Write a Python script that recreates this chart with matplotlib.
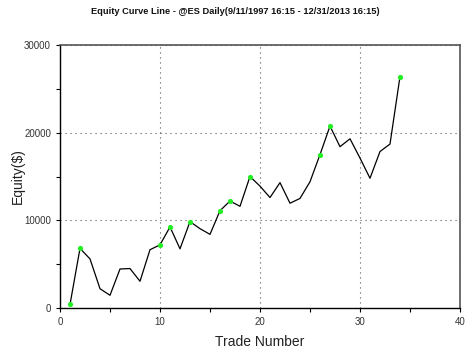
import numpy as np
import matplotlib.pyplot as plt
from matplotlib.ticker import MultipleLocator

plt.rcParams['font.family'] = ['Liberation Sans', 'DejaVu Sans']

# Equity after each trade
trades = list(range(1, 35))
equity = [400, 6800, 5600, 2200, 1450, 4450, 4500, 3050, 6650, 7200,
          9250, 6750, 9850, 9050, 8400, 11100, 12200, 11600, 15000, 13900,
          12600, 14300, 11950, 12500, 14400, 17500, 20750, 18400, 19300, 17100,
          14800, 17850, 18700, 26400]
# trades that made a new equity high
highs = [1, 2, 10, 11, 13, 16, 17, 19, 26, 27, 34]

title = "Equity Curve Line - @ES Daily(9/11/1997 16:15 - 12/31/2013 16:15)"

fig = plt.figure(figsize=(4.74, 3.51), dpi=100)
ax = fig.add_axes([60 / 474, 1 - 308 / 351, 400 / 474, 263 / 351])

ax.plot(trades, equity, color='black', lw=0.9, zorder=3)
hi_eq = [equity[t - 1] for t in highs]
ax.scatter(highs, hi_eq, s=14, color='#22ee22', zorder=4, linewidths=0)

ax.set_xlim(0, 40)
ax.set_ylim(0, 30000)
ax.xaxis.set_major_locator(MultipleLocator(10))
ax.xaxis.set_minor_locator(MultipleLocator(5))
ax.yaxis.set_major_locator(MultipleLocator(10000))
ax.yaxis.set_minor_locator(MultipleLocator(5000))
ax.tick_params(which='both', direction='out', length=3, width=0.8, labelsize=7, colors='black')
ax.tick_params(which='both', labelcolor='#333333')

ax.grid(True, which='major', color='#555555', linestyle=(0, (1, 3.5)), lw=0.8)

for s in ['left', 'bottom']:
    ax.spines[s].set_color('black')
    ax.spines[s].set_linewidth(1.0)
for s in ['top', 'right']:
    ax.spines[s].set_color('#555555')
    ax.spines[s].set_linewidth(1.2)

ax.set_xlabel('Trade Number', fontsize=10, color='#222222', labelpad=6)
ax.set_ylabel('Equity($)', fontsize=10, color='#222222')
ax.yaxis.set_label_coords(-35 / 400, 0.5)
fig.text(235 / 474, 1 - 12 / 351, title, ha='center', va='center',
         fontsize=6.7, fontweight='bold', color='#111111')

fig.savefig('out.png', dpi=100)
